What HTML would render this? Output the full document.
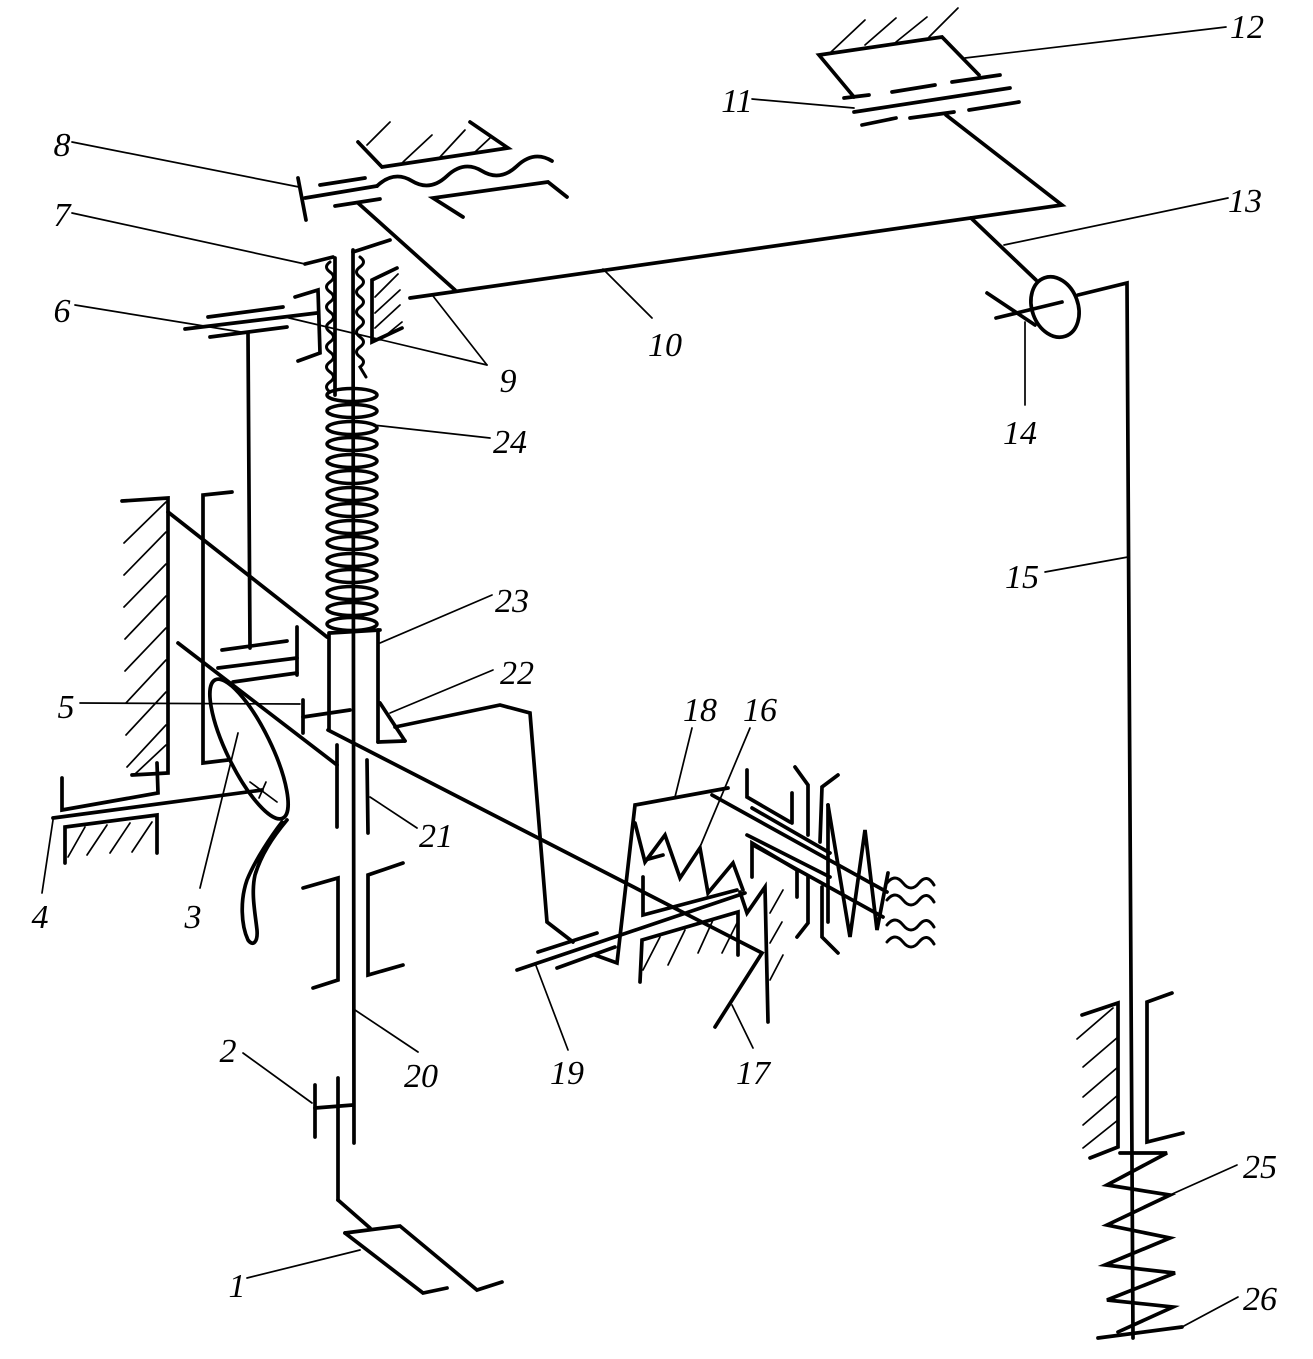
<!DOCTYPE html>
<html>
<head>
<meta charset="utf-8">
<style>
html,body{margin:0;padding:0;background:#fff;}
svg{display:block;}
text{font-family:"Liberation Serif",serif;font-style:italic;font-size:34px;fill:#000;text-anchor:middle;}
</style>
</head>
<body>
<svg width="1313" height="1359" viewBox="0 0 1313 1359" xmlns="http://www.w3.org/2000/svg">
<g fill="none" stroke="#000" stroke-linecap="round" stroke-linejoin="miter">

<!-- ===== Top right: 11, 12, 13, 14, 15 ===== -->
<g stroke-width="3.7">
  <polyline points="854,97 819,55 942,37 979,75"/>
  <line x1="844" y1="98" x2="869" y2="95"/>
  <line x1="892" y1="92" x2="935" y2="85"/>
  <line x1="952" y1="82" x2="1000" y2="75"/>
  <line x1="854" y1="112" x2="1010" y2="88"/>
  <line x1="862" y1="125" x2="896" y2="118"/>
  <line x1="910" y1="118" x2="954" y2="112"/>
  <line x1="969" y1="110" x2="1019" y2="102"/>
  <polyline points="946,115 1062,205 410,298"/>
  <line x1="971" y1="218" x2="1036" y2="280"/>
  <ellipse cx="1055" cy="307" rx="23" ry="31" transform="rotate(-20 1055 307)"/>
  <polyline points="1078,295 1127,283 1133,1338"/>
  <line x1="987" y1="293" x2="1035" y2="325"/>
  <line x1="996" y1="318" x2="1062" y2="302"/>
</g>
<g stroke-width="1.7">
  <line x1="831" y1="52" x2="865" y2="20"/>
  <line x1="865" y1="45" x2="896" y2="18"/>
  <line x1="896" y1="42" x2="927" y2="17"/>
  <line x1="929" y1="37" x2="958" y2="8"/>
  <line x1="965" y1="58" x2="1226" y2="27"/>
  <line x1="1004" y1="245" x2="1228" y2="198"/>
  <line x1="752" y1="99" x2="854" y2="108"/>
  <line x1="1025" y1="322" x2="1025" y2="405"/>
  <line x1="1045" y1="572" x2="1128" y2="557"/>
</g>

<!-- ===== Top left: 6,7,8,9,10 ===== -->
<g stroke-width="1.7">
  <line x1="72" y1="142" x2="299" y2="187"/>
  <line x1="72" y1="213" x2="305" y2="264"/>
  <line x1="75" y1="305" x2="247" y2="333"/>
  <line x1="433" y1="296" x2="487" y2="365"/>
  <line x1="285" y1="317" x2="487" y2="365"/>
  <line x1="603" y1="269" x2="652" y2="318"/>
  <line x1="373" y1="425" x2="490" y2="438"/>
  <line x1="367" y1="145" x2="390" y2="122"/>
  <line x1="403" y1="162" x2="432" y2="135"/>
  <line x1="440" y1="157" x2="465" y2="130"/>
  <line x1="475" y1="152" x2="490" y2="138"/>
  <line x1="375" y1="297" x2="398" y2="274"/>
  <line x1="375" y1="313" x2="400" y2="290"/>
  <line x1="375" y1="328" x2="400" y2="305"/>
  <line x1="380" y1="340" x2="402" y2="322"/>
</g>
<g stroke-width="3.7">
  <line x1="298" y1="178" x2="306" y2="220"/>
  <line x1="305" y1="198" x2="377" y2="186"/>
  <path d="M377,186 q17,-16 35,-5 t35,-5 t35,-5 t35,-5 t35,-5"/>
  <line x1="320" y1="185" x2="365" y2="178"/>
  <line x1="335" y1="206" x2="380" y2="199"/>
  <line x1="358" y1="203" x2="455" y2="290"/>
  <polyline points="463,217 433,198 548,182 567,197"/>
  <polyline points="358,142 382,167 508,148 470,122"/>
  <line x1="305" y1="264" x2="333" y2="257"/>
  <line x1="335" y1="258" x2="335" y2="395"/>
  <line x1="353" y1="252" x2="390" y2="240"/>
  <line x1="353" y1="250" x2="354" y2="1143"/>
  <polyline points="295,297 318,290 320,353 298,361"/>
  <polyline points="397,268 372,280 372,342 402,328"/>
  <line x1="208" y1="317" x2="283" y2="307"/>
  <line x1="185" y1="329" x2="317" y2="313"/>
  <line x1="210" y1="337" x2="287" y2="327"/>
  <line x1="248" y1="333" x2="250" y2="648"/>
  <line x1="222" y1="650" x2="287" y2="641"/>
</g>
<g stroke-width="3">
  <path d="M330,262 q-7,5 0,10 q7,5 0,10 q-7,5 0,10 q7,5 0,10 q-7,5 0,10 q7,5 0,10 q-7,5 0,10 q7,5 0,10 q-7,5 0,10 q7,5 0,10 q-7,5 0,10 q7,5 0,10 q-7,5 0,10"/>
  <path d="M360,257 q7,5 0,10 q-7,5 0,10 q7,5 0,10 q-7,5 0,10 q7,5 0,10 q-7,5 0,10 q7,5 0,10 q-7,5 0,10 q7,5 0,10 q-7,5 0,10 q7,5 0,10 l6,10"/>
</g>
<g stroke-width="3.5">
  <ellipse cx="352" cy="395" rx="25" ry="6.5"/>
  <ellipse cx="352" cy="411" rx="25" ry="6.5"/>
  <ellipse cx="352" cy="428" rx="25" ry="6.5"/>
  <ellipse cx="352" cy="444" rx="25" ry="6.5"/>
  <ellipse cx="352" cy="461" rx="25" ry="6.5"/>
  <ellipse cx="352" cy="477" rx="25" ry="6.5"/>
  <ellipse cx="352" cy="494" rx="25" ry="6.5"/>
  <ellipse cx="352" cy="510" rx="25" ry="6.5"/>
  <ellipse cx="352" cy="527" rx="25" ry="6.5"/>
  <ellipse cx="352" cy="543" rx="25" ry="6.5"/>
  <ellipse cx="352" cy="560" rx="25" ry="6.5"/>
  <ellipse cx="352" cy="576" rx="25" ry="6.5"/>
  <ellipse cx="352" cy="593" rx="25" ry="6.5"/>
  <ellipse cx="352" cy="609" rx="25" ry="6.5"/>
  <ellipse cx="352" cy="624" rx="25" ry="6.5"/>
</g>

<!-- ===== Middle left ===== -->
<g stroke-width="3.7">
  <polyline points="122,501 168,498 168,773 132,775"/>
  <polyline points="232,492 203,495 203,763 228,760"/>
  <line x1="168" y1="512" x2="327" y2="637"/>
  <line x1="218" y1="668" x2="297" y2="658"/>
  <line x1="297" y1="627" x2="297" y2="675"/>
  <line x1="233" y1="682" x2="297" y2="673"/>
  <line x1="178" y1="643" x2="337" y2="765"/>
  <ellipse cx="249" cy="749" rx="22" ry="77" transform="rotate(-26 249 749)"/>
  <path d="M282,822 C272,835 255,860 247,880 C240,900 241,925 248,940 C253,947 258,942 257,930 C255,912 251,893 255,875 C261,855 272,838 287,820"/>
  <line x1="53" y1="818" x2="262" y2="790"/>
  <polyline points="62,778 62,810 158,793 157,763"/>
  <polyline points="65,863 65,827 157,815 157,853"/>
  <line x1="303" y1="700" x2="303" y2="733"/>
  <line x1="303" y1="717" x2="350" y2="710"/>
  <line x1="330" y1="633" x2="380" y2="630"/>
  <line x1="329" y1="633" x2="329" y2="730"/>
  <line x1="378" y1="630" x2="378" y2="742"/>
  <line x1="378" y1="742" x2="405" y2="741"/>
  <line x1="380" y1="703" x2="405" y2="741"/>
  <polyline points="395,727 500,705 530,713 547,922 573,942"/>
  <polyline points="328,730 762,953 715,1027"/>
  <line x1="337" y1="745" x2="337" y2="827"/>
  <line x1="367" y1="760" x2="368" y2="833"/>
  <polyline points="303,888 338,878 338,980 313,988"/>
  <polyline points="403,863 368,875 368,975 403,965"/>
  <line x1="315" y1="1085" x2="315" y2="1137"/>
  <line x1="338" y1="1078" x2="338" y2="1200"/>
  <line x1="315" y1="1108" x2="353" y2="1105"/>
  <line x1="338" y1="1200" x2="370" y2="1228"/>
  <polyline points="345,1233 400,1226 477,1290 502,1282"/>
  <polyline points="345,1233 423,1293 447,1288"/>
</g>
<g stroke-width="1.7">
  <line x1="124" y1="543" x2="166" y2="502"/>
  <line x1="124" y1="575" x2="166" y2="532"/>
  <line x1="124" y1="607" x2="166" y2="564"/>
  <line x1="125" y1="639" x2="166" y2="596"/>
  <line x1="125" y1="671" x2="166" y2="628"/>
  <line x1="126" y1="703" x2="166" y2="660"/>
  <line x1="126" y1="735" x2="166" y2="692"/>
  <line x1="127" y1="767" x2="166" y2="725"/>
  <line x1="134" y1="775" x2="166" y2="745"/>
  <line x1="68" y1="857" x2="85" y2="827"/>
  <line x1="87" y1="855" x2="107" y2="825"/>
  <line x1="110" y1="853" x2="130" y2="823"/>
  <line x1="132" y1="852" x2="152" y2="822"/>
  <line x1="250" y1="782" x2="277" y2="802"/>
  <line x1="259" y1="798" x2="266" y2="782"/>
  <line x1="53" y1="820" x2="42" y2="893"/>
  <line x1="238" y1="733" x2="200" y2="888"/>
  <line x1="80" y1="703" x2="300" y2="704"/>
  <line x1="380" y1="643" x2="492" y2="595"/>
  <line x1="390" y1="713" x2="493" y2="670"/>
  <line x1="370" y1="797" x2="417" y2="828"/>
  <line x1="355" y1="1010" x2="418" y2="1052"/>
  <line x1="243" y1="1053" x2="312" y2="1103"/>
  <line x1="247" y1="1278" x2="360" y2="1250"/>
</g>

<!-- ===== Middle: 16,17,18,19 ===== -->
<g stroke-width="3.7">
  <line x1="517" y1="970" x2="745" y2="893"/>
  <line x1="538" y1="952" x2="597" y2="933"/>
  <line x1="557" y1="968" x2="615" y2="947"/>
  <polyline points="595,955 617,963 635,805 728,788"/>
  <polyline points="635,823 645,862 665,835 680,878 700,848 708,893 733,863 743,890"/>
  <line x1="645" y1="860" x2="663" y2="855"/>
  <polyline points="643,877 643,915 737,890"/>
  <polyline points="640,982 642,940 738,912 738,955"/>
  <polyline points="740,892 747,913 765,887 768,1022"/>
  <line x1="712" y1="795" x2="887" y2="892"/>
  <line x1="753" y1="845" x2="883" y2="917"/>
  <line x1="752" y1="808" x2="830" y2="853"/>
  <line x1="747" y1="835" x2="830" y2="877"/>
  <polyline points="747,770 747,797 790,822"/>
  <line x1="792" y1="793" x2="792" y2="823"/>
  <polyline points="752,877 752,843 797,870 797,897"/>
  <polyline points="795,767 808,785 808,835"/>
  <polyline points="838,775 822,787 820,842"/>
  <polyline points="808,877 808,923 797,937"/>
  <polyline points="822,887 822,937 838,953"/>
  <line x1="828" y1="805" x2="828" y2="922"/>
  <polyline points="828,805 850,937 865,830 877,930 888,873"/>
</g>
<g stroke-width="3">
  <path d="M887,883 q8,-10 16,0 t16,0 t15,2"/>
  <path d="M887,900 q8,-10 16,0 t16,0 t15,2"/>
  <path d="M887,925 q8,-10 16,0 t16,0 t15,2"/>
  <path d="M887,942 q8,-10 16,0 t16,0 t15,2"/>
</g>
<g stroke-width="1.7">
  <line x1="643" y1="970" x2="660" y2="937"/>
  <line x1="668" y1="965" x2="685" y2="930"/>
  <line x1="698" y1="953" x2="713" y2="920"/>
  <line x1="722" y1="953" x2="737" y2="923"/>
  <line x1="770" y1="913" x2="783" y2="890"/>
  <line x1="770" y1="943" x2="782" y2="922"/>
  <line x1="770" y1="980" x2="783" y2="955"/>
  <line x1="675" y1="797" x2="692" y2="728"/>
  <line x1="700" y1="847" x2="750" y2="728"/>
  <line x1="535" y1="963" x2="568" y2="1050"/>
  <line x1="732" y1="1005" x2="753" y2="1048"/>
</g>

<!-- ===== Bottom right: 25, 26 ===== -->
<g stroke-width="3.7">
  <polyline points="1082,1015 1118,1003 1118,1147 1090,1158"/>
  <polyline points="1172,993 1147,1002 1147,1142 1183,1133"/>
  <polyline points="1120,1153 1167,1153 1107,1185 1170,1195 1107,1225 1170,1238 1105,1265 1175,1273 1107,1300 1173,1307 1118,1332"/>
  <line x1="1098" y1="1338" x2="1182" y2="1327"/>
</g>
<g stroke-width="1.7">
  <line x1="1077" y1="1039" x2="1113" y2="1008"/>
  <line x1="1083" y1="1067" x2="1118" y2="1037"/>
  <line x1="1083" y1="1097" x2="1118" y2="1067"/>
  <line x1="1083" y1="1125" x2="1118" y2="1095"/>
  <line x1="1083" y1="1148" x2="1118" y2="1120"/>
  <line x1="1170" y1="1195" x2="1237" y2="1165"/>
  <line x1="1182" y1="1327" x2="1238" y2="1297"/>
</g>
</g>

<text x="1247" y="38">12</text>
<text x="737" y="112">11</text>
<text x="62" y="156">8</text>
<text x="62" y="226">7</text>
<text x="1245" y="212">13</text>
<text x="665" y="356">10</text>
<text x="508" y="392">9</text>
<text x="62" y="322">6</text>
<text x="1020" y="444">14</text>
<text x="510" y="453">24</text>
<text x="1022" y="588">15</text>
<text x="512" y="612">23</text>
<text x="517" y="684">22</text>
<text x="66" y="718">5</text>
<text x="700" y="721">18</text>
<text x="760" y="721">16</text>
<text x="436" y="847">21</text>
<text x="40" y="928">4</text>
<text x="193" y="928">3</text>
<text x="567" y="1084">19</text>
<text x="753" y="1084">17</text>
<text x="421" y="1087">20</text>
<text x="228" y="1062">2</text>
<text x="1260" y="1178">25</text>
<text x="1260" y="1310">26</text>
<text x="237" y="1297">1</text>
</svg>
</body>
</html>
